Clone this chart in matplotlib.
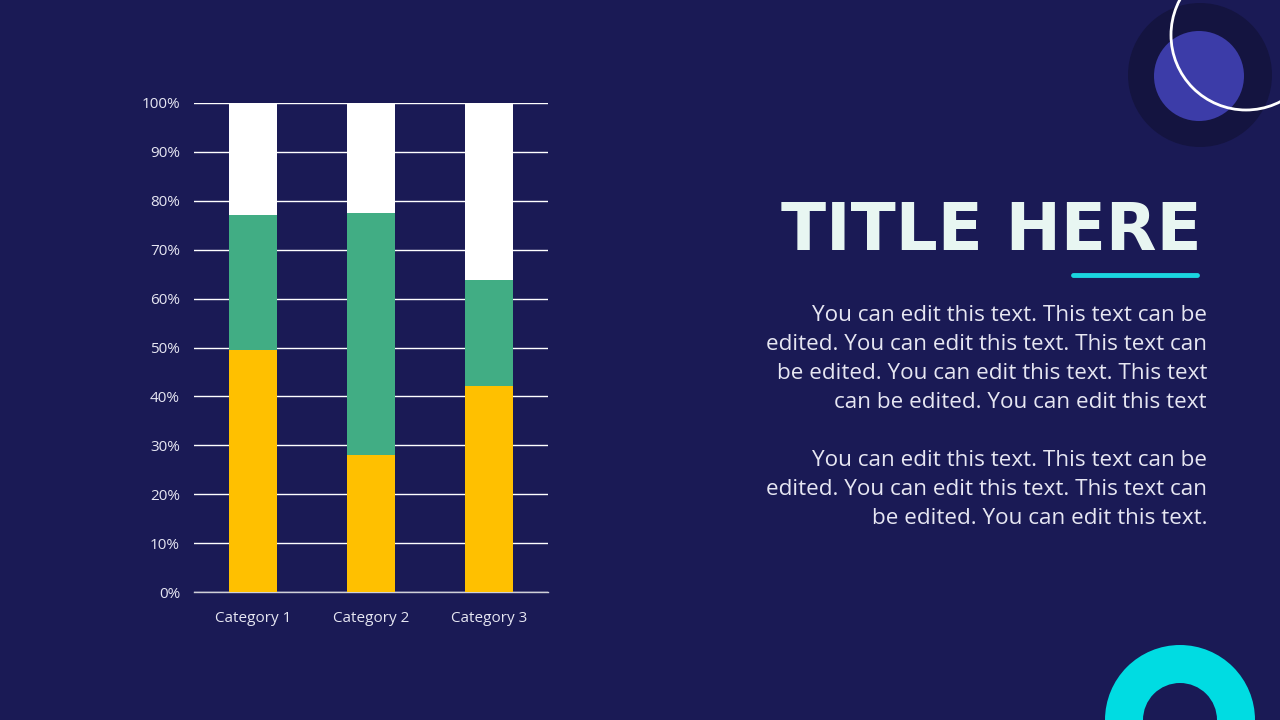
import numpy as np
import matplotlib
matplotlib.use('Agg')
import matplotlib.pyplot as plt
from matplotlib.patches import Circle, Wedge

#-----------------
#data
#-----------------
categories = ['Category 1', 'Category 2', 'Category 3']
series1 = [4.3, 2.5, 3.5]
series2 = [2.4, 4.4, 1.8]
series3 = [2.0, 2.0, 3.0]
yTicks = [0, 10, 20, 30, 40, 50, 60, 70, 80, 90, 100]
titleText = 'TITLE HERE'
para1 = ['You can edit this text. This text can be',
         'edited. You can edit this text. This text can',
         'be edited. You can edit this text. This text',
         'can be edited. You can edit this text']
para2 = ['You can edit this text. This text can be',
         'edited. You can edit this text. This text can',
         'be edited. You can edit this text.']

#-----------------
#settings
#-----------------
bgColor = '#1a1a55'
colors = ['#ffc000', '#41ad84', '#ffffff']
textColor = '#e6e6f2'
bodyFont = ['Open Sans', 'DejaVu Sans']

fig = plt.figure(figsize=(12.8, 7.2), dpi=100)
fig.patch.set_facecolor(bgColor)

#overlay in pixel coords for the slide decorations and text
deco = fig.add_axes([0, 0, 1, 1])
deco.set_xlim(0, 1280)
deco.set_ylim(720, 0)
deco.axis('off')
deco.add_patch(Circle((1200, 75), 72, facecolor='#141440', edgecolor='none'))
deco.add_patch(Circle((1199, 76), 45, facecolor='#3c3ca8', edgecolor='none'))
deco.add_patch(Circle((1246, 35), 75, facecolor='none', edgecolor='white', linewidth=2))
deco.add_patch(Wedge((1180, 720), 75, 180, 360, width=38, facecolor='#00dce2', edgecolor='none'))
deco.add_patch(Wedge((1180, 720), 75, 0, 180, width=38, facecolor='#00dce2', edgecolor='none'))

deco.text(1202, 250, titleText, ha='right', va='baseline', fontsize=47.5, fontweight='heavy',
          color='#e8f6f2', family='DejaVu Sans')
deco.plot([1073, 1197], [275, 275], color='#1ad6e0', linewidth=3.5, solid_capstyle='round')

for i, line in enumerate(para1):
    deco.text(1207, 321 + 29 * i, line, ha='right', va='baseline', fontsize=16.2,
              color=textColor, family=bodyFont)
for i, line in enumerate(para2):
    deco.text(1207, 466 + 29 * i, line, ha='right', va='baseline', fontsize=16.2,
              color=textColor, family=bodyFont)

#-----------------
#chart
#-----------------
ax = fig.add_axes([194 / 1280, 1 - 592 / 720, 354 / 1280, 489 / 720])
ax.set_facecolor('none')

data = np.array([series1, series2, series3], dtype=float)
pct = data / data.sum(axis=0) * 100
x = np.arange(len(categories))
bottom = np.zeros(len(categories))
for iSer in range(len(pct)):
    ax.bar(x, pct[iSer], width=0.4, bottom=bottom, color=colors[iSer], zorder=3)
    bottom += pct[iSer]

ax.set_xlim(-0.5, 2.5)
ax.set_ylim(0, 100)
ax.set_yticks(yTicks)
ax.set_yticklabels(['{}%'.format(t) for t in yTicks])
ax.set_xticks(x)
ax.set_xticklabels(categories)
ax.grid(True, axis='y', color='white', linewidth=1, zorder=0)
ax.set_axisbelow(True)
for side in ['top', 'right', 'left']:
    ax.spines[side].set_visible(False)
ax.spines['bottom'].set_color('#d0d0d8')
ax.spines['bottom'].set_linewidth(1)
ax.tick_params(length=0, colors=textColor, labelsize=11)
ax.tick_params(axis='y', pad=10)
ax.tick_params(axis='x', pad=14)
for lbl in ax.get_xticklabels() + ax.get_yticklabels():
    lbl.set_family(bodyFont)

plt.savefig('out.png', dpi=100, facecolor=bgColor)
